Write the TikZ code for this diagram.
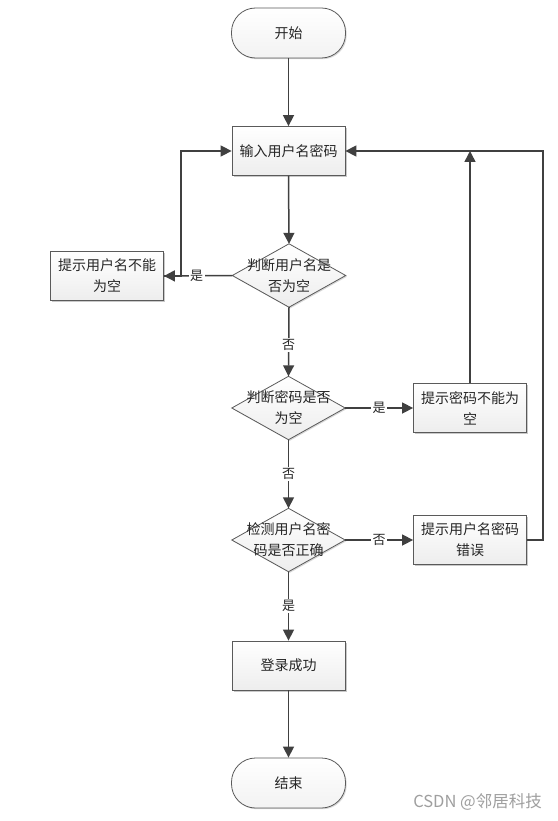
\documentclass[tikz,border=0pt]{standalone}
\usepackage{fontspec}
\setmainfont{Noto Sans CJK SC}
\usetikzlibrary{arrows.meta,shadows,backgrounds}
\definecolor{lineC}{HTML}{404040}
\definecolor{boxC}{HTML}{5A5A5A}
\definecolor{txtC}{HTML}{262626}
\begin{document}
\begin{tikzpicture}[x=1pt,y=-1pt,
  every node/.style={font=\fontsize{14}{21}\selectfont, text=txtC, align=center},
  procbox/.style={draw=boxC, line width=0.8pt, minimum width=113pt, minimum height=49pt, inner sep=1pt,
     top color=white, bottom color=gray!14,
     drop shadow={shadow xshift=1.6pt, shadow yshift=-1.6pt, fill=black!35, opacity=0.6}},
  termbox/.style={draw=boxC, line width=0.8pt, minimum width=114pt, minimum height=50pt, rounded corners=24pt,
     top color=white, bottom color=gray!10,
     drop shadow={shadow xshift=1.2pt, shadow yshift=-1.2pt, fill=black!30, opacity=0.5}},
  decbox/.style={minimum width=113pt, minimum height=63pt, inner sep=0pt},
  decshape/.style={draw=boxC, line width=0.8pt, top color=white, bottom color=gray!14,
     drop shadow={shadow xshift=1.2pt, shadow yshift=-1.2pt, fill=black!30, opacity=0.5}},
  arr/.style={draw=lineC, line width=1.5pt, -{Triangle[length=11pt,width=11pt]}},
  lbl/.style={fill=white, inner sep=1.5pt, font=\fontsize{13}{14}\selectfont}
]
\useasboundingbox (0,0) rectangle (557,821);

\node[termbox] (start) at (288.5,33) {开始};
\node[procbox] (in) at (288.5,151) {输入用户名密码};
\node[decbox] (d1) at (289,275.5) {判断用户名是\\否为空};
\node[procbox] (e1) at (107,276) {提示用户名不能\\为空};
\node[decbox] (d2) at (288.5,408) {判断密码是否\\为空};
\node[procbox] (e2) at (470,408) {提示密码不能为\\空};
\node[decbox] (d3) at (288.5,540) {检测用户名密\\码是否正确};
\node[procbox] (e3) at (470,540) {提示用户名密码\\错误};
\node[procbox] (ok) at (288.5,665.5) {登录成功};
\node[termbox] (end) at (288.5,783) {结束};

\begin{pgfonlayer}{background}
\fill[white] (0,0) rectangle (557,821);
\foreach \d in {d1,d2,d3}{
  \path[decshape] (\d.north) -- (\d.east) -- (\d.south) -- (\d.west) -- cycle;
}
\end{pgfonlayer}

\draw[arr] (start.south) -- (in.north);
\draw[arr] (in.south) -- (d1.north);
\draw[arr] (d1.west) -- node[lbl, pos=0.52] {是} (e1.east);
\draw[arr] (e1.east) -- ++(17,0) |- (in.west);
\draw[arr] (d1.south) -- node[lbl, pos=0.55] {否} (d2.north);
\draw[arr] (d2.east) -- node[lbl, pos=0.5] {是} (e2.west);
\draw[arr] (e2.north) -- (e2.north |- in.east);
\draw[arr] (d2.south) -- node[lbl, pos=0.5] {否} (d3.north);
\draw[arr] (d3.east) -- node[lbl, pos=0.5] {否} (e3.west);
\draw[arr] (e3.east) -- ++(16,0) |- (in.east);
\draw[arr] (d3.south) -- node[lbl, pos=0.5] {是} (ok.north);
\draw[arr] (ok.south) -- (end.north);

\node[text=gray!75, font=\fontsize{16.5}{18}\selectfont, anchor=east, inner sep=0pt] (wm) at (542,802) {CSDN @邻居科技};
\end{tikzpicture}
\end{document}
